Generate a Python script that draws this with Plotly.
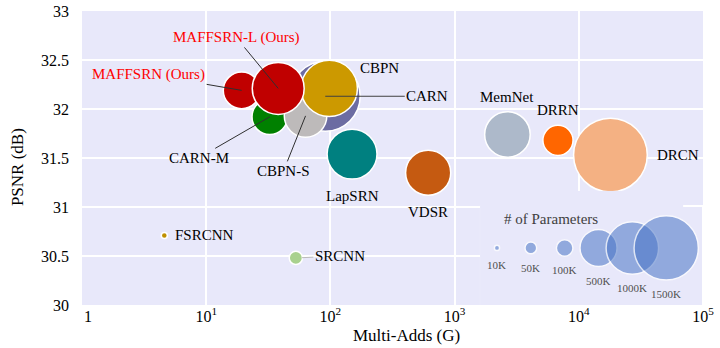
import numpy as np
import plotly.graph_objects as go

# ---------------- data ----------------
models = ["CARN", "CARN-M", "CBPN-S", "CBPN", "MAFFSRN", "MAFFSRN-L",
          "LapSRN", "VDSR", "MemNet", "DRRN", "DRCN", "SRCNN", "FSRCNN"]
label_text = ["CARN", "CARN-M", "CBPN-S", "CBPN", "MAFFSRN (Ours)", "MAFFSRN-L (Ours)",
              "LapSRN", "VDSR", "MemNet", "DRRN", "DRCN", "SRCNN", "FSRCNN"]
multi_adds = [90.9, 32.5, 63.1, 97.9, 19.3, 38.0, 149.4, 612.6, 2662.4, 6796.9, 17974.3, 52.7, 4.6]
psnr = [32.13, 31.92, 31.93, 32.21, 32.19, 32.21, 31.54, 31.35, 31.74, 31.68, 31.53, 30.48, 30.71]
params_k = [1592, 412, 592, 1036, 441, 880, 813, 665, 677, 297, 1774, 57, 12]
colors = ["#6C6CA2", "#008000", "#BDBABA", "#CC9900", "#C00000", "#C00000",
          "#008080", "#C55A11", "#ADB9CA", "#FF6600", "#F4B183", "#A9D18E", "#BF9000"]

legend_sizes = [10, 50, 100, 500, 1000, 1500]
legend_labels = ["10K", "50K", "100K", "500K", "1000K", "1500K"]

x_tickvals = [1, 10, 100, 1000, 10000, 100000]
x_ticktext = ["\u2002\u00a01", "10<sup>1</sup>", "10<sup>2</sup>", "10<sup>3</sup>",
              "10<sup>4</sup>", "10<sup>5</sup>"]
y_range = [30, 33]
x_title = "Multi-Adds (G)"
y_title = "PSNR (dB)"
legend_title = "# of Parameters"

# ---------------- styling ----------------
FONT = "Liberation Serif"
BG = "#E8E8FA"
# observed: diameter = sqrt(2 * v / sizeref)
K_DATA = 1.75
K_LEG = 1.66
SIZEREF_DATA = 2 / K_DATA ** 2
SIZEREF_LEG = 2 / K_LEG ** 2

fig = go.Figure()

fig.add_trace(go.Scatter(
    x=multi_adds, y=psnr, mode="markers", text=models, cliponaxis=False,
    marker=dict(size=params_k, sizemode="area", sizeref=SIZEREF_DATA, sizemin=2,
                color=colors, opacity=1, line=dict(color="white", width=1.5)),
    xaxis="x", yaxis="y", showlegend=False, hoverinfo="text"))

fig.add_trace(go.Scatter(
    x=legend_labels, y=[0] * len(legend_labels), mode="markers", cliponaxis=False,
    marker=dict(size=legend_sizes, sizemode="area", sizeref=SIZEREF_LEG, sizemin=2,
                color="rgba(68,114,196,0.75)", line=dict(color="white", width=1.5)),
    xaxis="x2", yaxis="y2", showlegend=False, hoverinfo="skip"))

# label placement (pixel offsets), style only
arrow_place = {  # model: (ax, ay, color, standoff)
    "MAFFSRN-L": (-42, -51, "#303030", 0),
    "MAFFSRN": (-93, -16, "#303030", 0),
    "CARN-M": (-71, 41, "#303030", 0),
    "CBPN-S": (-22, 55, "#303030", 0),
    "CARN": (102, 0, "#404040", 0),
    "SRCNN": (44, -2, "#BBBBBB", 6),
}
shift_place = {  # model: (xshift, yshift)
    "CBPN": (50, 20),
    "LapSRN": (0, -42),
    "VDSR": (0, -39),
    "MemNet": (0, 37),
    "DRRN": (0, 30),
    "DRCN": (68, 0),
    "FSRCNN": (40, 0),
}

annotations = []
for m, t, xv, yv in zip(models, label_text, multi_adds, psnr):
    col = "#FF0000" if "Ours" in t else "black"
    if m in arrow_place:
        ax, ay, acol, so = arrow_place[m]
        annotations.append(dict(x=np.log10(xv), y=yv, xref="x", yref="y", text=t,
                                showarrow=True, arrowhead=0, arrowwidth=1, arrowcolor=acol,
                                ax=ax, ay=ay, standoff=so,
                                font=dict(family=FONT, size=15, color=col)))
    else:
        xs, ys = shift_place[m]
        annotations.append(dict(x=np.log10(xv), y=yv, xref="x", yref="y", text=t,
                                showarrow=False, xshift=xs, yshift=ys,
                                xanchor="center", yanchor="middle",
                                font=dict(family=FONT, size=15, color=col)))

for lab, s in zip(legend_labels, legend_sizes):
    d = np.sqrt(2 * s / SIZEREF_LEG)
    annotations.append(dict(x=lab, y=0, xref="x2", yref="y2", text=lab, showarrow=False,
                            yshift=-(d / 2 + 14), xanchor="center", yanchor="middle",
                            font=dict(family=FONT, size=11, color="#505050")))

annotations.append(dict(x=0.755, y=0.2925, xref="paper", yref="paper", text=legend_title,
                        showarrow=False, xanchor="center", yanchor="middle",
                        font=dict(family=FONT, size=15, color="#404040")))
annotations.append(dict(x=-0.1047, y=0.469, xref="paper", yref="paper", text=y_title,
                        textangle=-90, showarrow=False, xanchor="center", yanchor="middle",
                        font=dict(family=FONT, size=17, color="black")))
annotations.append(dict(x=0.523, y=-0.105, xref="paper", yref="paper", text=x_title,
                        showarrow=False, xanchor="center", yanchor="middle",
                        font=dict(family=FONT, size=17, color="black")))

fig.update_layout(
    width=720, height=348, autosize=False,
    margin=dict(l=82, r=17, t=11, b=43, autoexpand=False),
    paper_bgcolor="white", plot_bgcolor=BG,
    font=dict(family=FONT, color="black"),
    annotations=annotations,
    xaxis=dict(type="log", range=[0, 5], tickvals=x_tickvals, ticktext=x_ticktext,
               showgrid=True, gridcolor="white", gridwidth=1.5, zeroline=False,
               showline=False, ticks="", automargin=False,
               tickfont=dict(family=FONT, size=16, color="black"),
               domain=[0, 1], anchor="y"),
    yaxis=dict(range=y_range, dtick=0.5, showgrid=True, gridcolor="white", gridwidth=1.5,
               zeroline=False, showline=False, ticks="", ticklabelstandoff=12, automargin=False,
               tickfont=dict(family=FONT, size=16, color="black"), domain=[0, 1], anchor="x"),
    xaxis2=dict(type="category", domain=[0.641, 0.968], range=[-0.5, 5.5], anchor="y2",
                visible=False, showgrid=False, automargin=False),
    yaxis2=dict(domain=[0, 0.388], range=[-1, 1], anchor="x2", visible=False,
                showgrid=False, automargin=False),
    shapes=[dict(type="rect", xref="x", yref="y", x0=1630, x1=100000,
                 y0=29.98, y1=31.01, fillcolor=BG, line=dict(color="white", width=2),
                 layer="between")],
    hovermode=False,
)

fig.write_html("out.html")
